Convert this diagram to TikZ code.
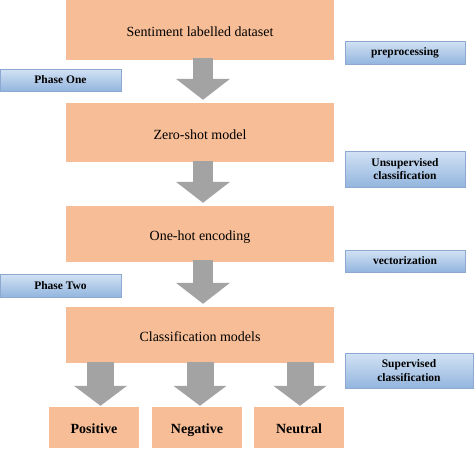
\documentclass[tikz,border=0pt]{standalone}
\usepackage{fontspec}
\setmainfont{Liberation Serif}
\usetikzlibrary{arrows.meta,calc}
\definecolor{peach}{HTML}{F6BD97}
\definecolor{bluetop}{HTML}{D2E2F4}
\definecolor{bluebot}{HTML}{93B5DE}
\definecolor{blueedge}{HTML}{8DA9D1}
\definecolor{arrowgray}{HTML}{A3A3A3}
\tikzset{
  mainbox/.style={fill=peach, draw=none, minimum width=268pt, inner sep=0pt, text height=14pt, text depth=1pt, font=\fontsize{14}{16}\selectfont},
  outbox/.style={fill=peach, draw=none, minimum width=90pt, minimum height=41pt, inner sep=0pt, text height=12pt, text depth=1pt, font=\fontsize{14}{16}\selectfont\bfseries},
  tagbox/.style={top color=bluetop, bottom color=bluebot, draw=blueedge, line width=0.6pt, inner sep=0pt, align=center, font=\fontsize{11.5}{13.3}\selectfont\bfseries},
  blockarrow/.style={draw=arrowgray, line width=20pt, -{Triangle[width=53pt,length=21pt]}, shorten >=3pt},
  widearrow/.style={draw=arrowgray, line width=27pt, -{Triangle[width=52pt,length=20pt]}, shorten >=1pt}
}
\begin{document}
\begin{tikzpicture}[x=1pt,y=-1pt]
\useasboundingbox (0,0) rectangle (474,448);
% main boxes
\node[mainbox, minimum height=60pt] (data) at (200,30) {Sentiment labelled dataset};
\node[mainbox, minimum height=59pt] (zero) at (200,132.5) {Zero-shot model};
\node[mainbox, minimum height=56pt] (onehot) at (200,234) {One-hot encoding};
\node[mainbox, minimum height=56pt] (cls) at (200,335) {Classification models};
% outcome boxes
\node[outbox] (pos) at (94,427.5) {Positive};
\node[outbox] (neg) at (197,427.5) {Negative};
\node[outbox] (neu) at (299,427.5) {Neutral};
% tag boxes
\node[tagbox, minimum width=120pt, minimum height=23pt] (pre) at (405,52.5) {preprocessing};
\node[tagbox, minimum width=120pt, minimum height=36pt] (unsup) at (405,169) {Unsupervised\\classification};
\node[tagbox, minimum width=120pt, minimum height=22pt] (vec) at (405,261) {vectorization};
\node[tagbox, minimum width=128pt, minimum height=35pt] (sup) at (409,370.5) {Supervised\\classification};
\node[tagbox, minimum width=121pt, minimum height=22pt] (ph1) at (60.5,80) {Phase One};
\node[tagbox, minimum width=121pt, minimum height=23pt] (ph2) at (60.5,285.5) {Phase Two};
% arrows
\draw[blockarrow] ($(data.south)+(3,-2)$) -- ($(zero.north)+(3,0)$);
\draw[blockarrow] ($(zero.south)+(3,-1)$) -- ($(onehot.north)+(3,0)$);
\draw[blockarrow] ($(onehot.south)+(3,-2)$) -- ($(cls.north)+(3,0)$);
\coordinate (c1) at ($(cls.south)+(-99.5,-1)$);
\coordinate (c2) at ($(cls.south)+(0,-1)$);
\coordinate (c3) at ($(cls.south)+(100,-1)$);
\draw[widearrow] (c1) -- (c1 |- pos.north);
\draw[widearrow] (c2) -- (c2 |- neg.north);
\draw[widearrow] (c3) -- (c3 |- neu.north);
\end{tikzpicture}
\end{document}
